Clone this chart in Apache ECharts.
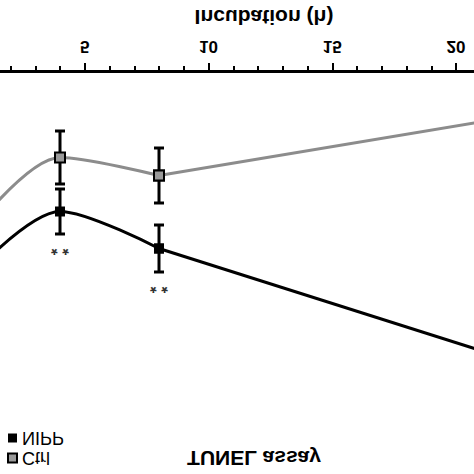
<!DOCTYPE html>
<html>
<head>
<meta charset="utf-8">
<script src="https://cdn.jsdelivr.net/npm/echarts@6/dist/echarts.min.js"></script>
<style>
html,body{margin:0;padding:0;background:#fff;overflow:hidden;width:474px;height:474px;}
#wrap{position:relative;width:474px;height:474px;overflow:hidden;transform:scaleY(-1);}
#chart{position:absolute;left:-42px;top:0;width:600px;height:474px;}
</style>
</head>
<body>
<div id="wrap"><div id="chart"></div></div>
<script>
// Incubation time (h)
var hours = [0, 4, 8, 24];
// TUNEL values (arbitrary units)
var ctrlValues = [17.3, 8.55, 10.35, 3.75];
var nippValues = [21.4, 13.95, 17.65, 30.2];
var ctrlErrors = [0, 2.65, 2.75, 0];
var nippErrors = [0, 2.25, 2.35, 0];
var nippSignificance = ['', '* *', '* *', ''];
var xTicks = [5, 10, 15, 20];
// the curve is smoothed up to this point, straight afterwards
var smoothUntil = 2;

var FONT = '"Liberation Sans", Arial, sans-serif';
var SHIFT = 42; // chart canvas starts 42px left of the visible window

function pairs(xs, ys) { return xs.map(function (x, i) { return [x, ys[i]]; }); }
function errData(xs, ys, es) { return xs.map(function (x, i) { return [x, ys[i], es[i]]; }); }

function errorRenderer(stars) {
  return function (params, api) {
    var x = api.value(0), y = api.value(1), e = api.value(2);
    if (!e) return null;
    var top = api.coord([x, y + e]);
    var bot = api.coord([x, y - e]);
    var cap = 5;
    var st = { stroke: '#000', lineWidth: 3 };
    var children = [
      { type: 'line', shape: { x1: top[0], y1: top[1], x2: bot[0], y2: bot[1] }, style: st },
      { type: 'line', shape: { x1: top[0] - cap, y1: top[1], x2: top[0] + cap, y2: top[1] }, style: st },
      { type: 'line', shape: { x1: bot[0] - cap, y1: bot[1], x2: bot[0] + cap, y2: bot[1] }, style: st }
    ];
    if (stars && stars[params.dataIndex]) {
      children.push({
        type: 'text',
        style: {
          text: stars[params.dataIndex], x: top[0], y: top[1] - 6,
          align: 'center', verticalAlign: 'bottom',
          fontSize: 17, fontWeight: 'bold', fontFamily: FONT, fill: '#333'
        }
      });
    }
    return { type: 'group', children: children };
  };
}

function lineSeries(name, values, lineColor, itemStyle, part) {
  var smooth = part === 'head';
  var xs = smooth ? hours.slice(0, smoothUntil + 1) : hours.slice(smoothUntil);
  var ys = smooth ? values.slice(0, smoothUntil + 1) : values.slice(smoothUntil);
  return {
    name: smooth ? name : name + ' (tail)', type: 'line', z: 3, smooth: smooth ? 0.3 : false,
    data: pairs(xs, ys), symbol: 'rect', symbolSize: 10, showAllSymbol: true,
    lineStyle: { color: lineColor, width: 3 }, itemStyle: itemStyle
  };
}

var ctrlItem = { color: '#9a9a9a', borderColor: '#000', borderWidth: 2 };
var nippItem = { color: '#000', borderColor: '#000', borderWidth: 0 };

var chart = echarts.init(document.getElementById('chart'), null, { renderer: 'svg' });
chart.setOption({
  animation: false,
  backgroundColor: '#fff',
  title: {
    text: 'TUNEL assay', left: 254 + SHIFT, top: 5, textAlign: 'center', padding: 0,
    textStyle: { fontFamily: FONT, fontSize: 21, fontWeight: 'bold', color: '#000' }
  },
  legend: {
    data: ['Ctrl', 'NIPP'], orient: 'vertical', left: 7 + SHIFT, top: 7, padding: 0,
    itemGap: 2, itemWidth: 9, itemHeight: 9, icon: 'rect',
    textStyle: { fontFamily: FONT, fontSize: 18, lineHeight: 15, color: '#000' }
  },
  grid: { left: 0, right: 0, top: 2, bottom: 72, containLabel: false },
  xAxis: {
    type: 'value', min: 0, max: 24, interval: 5,
    name: 'Incubation (h)', nameLocation: 'middle', nameGap: 44,
    nameTextStyle: { fontFamily: FONT, fontSize: 21, fontWeight: 'bold', color: '#000', padding: [0, 0, 0, 12] },
    axisLine: { show: true, lineStyle: { color: '#000', width: 3 } },
    axisTick: { show: true, inside: false, length: 9, lineStyle: { color: '#000', width: 2 } },
    minorTick: { show: true, splitNumber: 5, length: 6, lineStyle: { color: '#000', width: 2 } },
    splitLine: { show: false },
    axisLabel: {
      margin: 17, fontFamily: FONT, fontSize: 17, fontWeight: 'bold', color: '#000',
      formatter: function (v) { return xTicks.indexOf(v) >= 0 ? String(v) : ''; }
    }
  },
  yAxis: { type: 'value', min: 0, max: 40, show: false },
  series: [
    {
      name: 'Ctrl error', type: 'custom', z: 1, silent: true,
      renderItem: errorRenderer(null), data: errData(hours, ctrlValues, ctrlErrors)
    },
    {
      name: 'NIPP error', type: 'custom', z: 1, silent: true,
      renderItem: errorRenderer(nippSignificance), data: errData(hours, nippValues, nippErrors)
    },
    lineSeries('Ctrl', ctrlValues, '#8c8c8c', ctrlItem, 'tail'),
    lineSeries('NIPP', nippValues, '#000', nippItem, 'tail'),
    lineSeries('Ctrl', ctrlValues, '#8c8c8c', ctrlItem, 'head'),
    lineSeries('NIPP', nippValues, '#000', nippItem, 'head')
  ]
});
</script>
</body>
</html>
